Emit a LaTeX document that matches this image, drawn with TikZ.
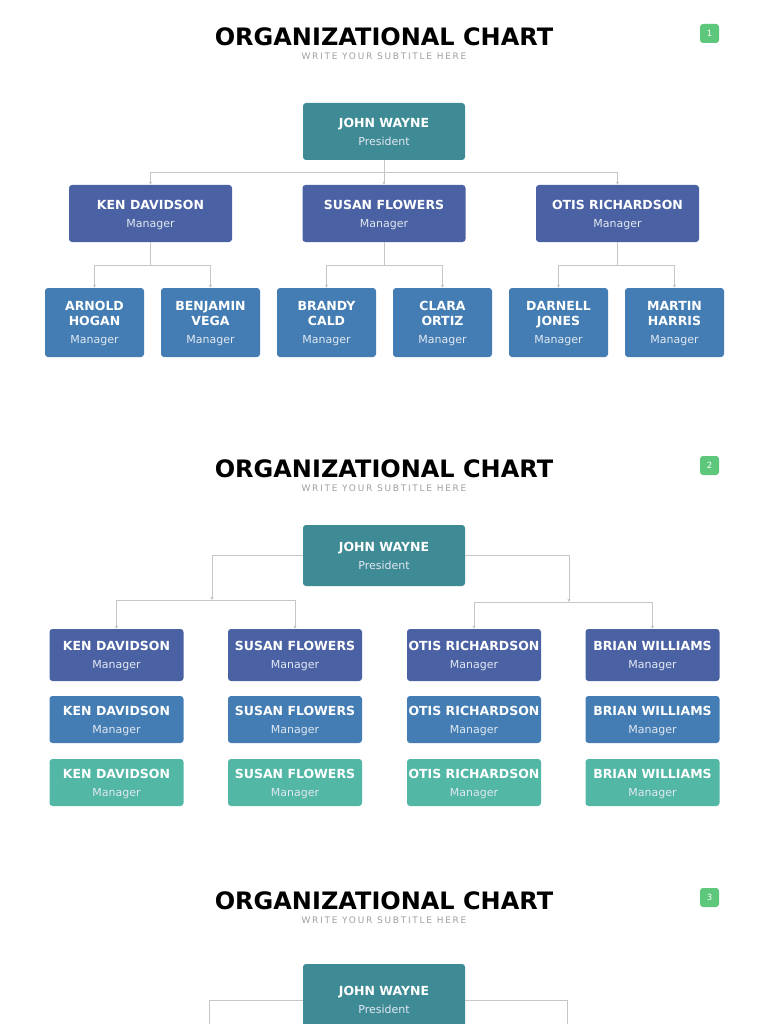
\documentclass[tikz,border=0pt]{standalone}
\usepackage{fontspec}
\setmainfont{DejaVu Sans}
\usetikzlibrary{arrows.meta}
\definecolor{cTop}{HTML}{3E8B95}
\definecolor{cMid}{HTML}{4A62A3}
\definecolor{cLow}{HTML}{437DB3}
\definecolor{cTeal}{HTML}{52B7A5}
\definecolor{cBadge}{HTML}{5DC77B}
\definecolor{cLine}{HTML}{C6C6C6}
\definecolor{cSub}{HTML}{A0A0A0}
\definecolor{cRole}{HTML}{E2E8F2}
\newcommand{\nm}[1]{{\bfseries\fontsize{12.5}{15}\selectfont #1}}
\newcommand{\rl}[1]{{\fontsize{11}{15}\selectfont\color{cRole}#1}}
\tikzset{
  box/.style={rounded corners=3pt, inner sep=0pt, text=white, align=center,
    font=\fontsize{12.5}{15}\selectfont, text depth=0pt},
  topbox/.style={box, fill=cTop, minimum width=162pt, minimum height=57pt},
  midbox/.style={box, fill=cMid, minimum width=163pt, minimum height=57pt},
  lowbox/.style={box, fill=cLow, minimum width=99pt, minimum height=69pt},
  rowa/.style={box, fill=cMid, minimum width=134pt, minimum height=52pt},
  rowb/.style={box, fill=cLow, minimum width=134pt, minimum height=47pt},
  rowc/.style={box, fill=cTeal, minimum width=134pt, minimum height=47pt},
  title/.style={anchor=base, font=\bfseries\fontsize{24}{28}\selectfont, text=black, inner sep=0pt},
  subtitle/.style={anchor=base, font=\fontsize{9}{11}\selectfont\addfontfeatures{LetterSpace=19.5}, text=cSub, inner sep=0pt},
  badge/.style={rounded corners=3pt, fill=cBadge, text=white, minimum size=19pt, inner sep=0pt,
    font=\fontsize{8.5}{9}\selectfont},
  ln/.style={draw=cLine, line width=1pt},
  arr/.style={ln, -{Triangle[length=3pt,width=3pt]}},
}
\begin{document}
\begin{tikzpicture}[x=1pt, y=-1pt]
\useasboundingbox (0,0) rectangle (768,1024);
\clip (0,0) rectangle (768,1024);
\fill[white] (0,0) rectangle (768,1024);

% ---------- Chart 1 ----------
\node[title] (t1) at (384,46) {ORGANIZATIONAL CHART};
\node[subtitle] (s1) at (384,59.3) {WRITE YOUR SUBTITLE HERE};
\node[badge] (g1) at (709.5,33.5) {1};

\node[topbox] (jw1) at (384,131.5) {\nm{JOHN WAYNE}\\[3pt]\rl{President}};
\node[midbox] (kd1) at (150.5,213.5) {\nm{KEN DAVIDSON}\\[3pt]\rl{Manager}};
\node[midbox] (sf1) at (384,213.5) {\nm{SUSAN FLOWERS}\\[3pt]\rl{Manager}};
\node[midbox] (or1) at (617.5,213.5) {\nm{OTIS RICHARDSON}\\[3pt]\rl{Manager}};

\node[lowbox] (ah) at (94.5,322.5) {\nm{ARNOLD}\\\nm{HOGAN}\\[3pt]\rl{Manager}};
\node[lowbox] (bv) at (210.5,322.5) {\nm{BENJAMIN}\\\nm{VEGA}\\[3pt]\rl{Manager}};
\node[lowbox] (bc) at (326.5,322.5) {\nm{BRANDY}\\\nm{CALD}\\[3pt]\rl{Manager}};
\node[lowbox] (co) at (442.5,322.5) {\nm{CLARA}\\\nm{ORTIZ}\\[3pt]\rl{Manager}};
\node[lowbox] (dj) at (558.5,322.5) {\nm{DARNELL}\\\nm{JONES}\\[3pt]\rl{Manager}};
\node[lowbox] (mh) at (674.5,322.5) {\nm{MARTIN}\\\nm{HARRIS}\\[3pt]\rl{Manager}};

\coordinate (b1) at (384,173);
\draw[ln] (jw1.south) -- (b1);
\draw[arr] (b1) -| (kd1.north);
\draw[arr] (b1) -- (sf1.north);
\draw[arr] (b1) -| (or1.north);

\coordinate (b2) at (150.5,265);
\draw[ln] (kd1.south) -- (b2);
\draw[arr] (b2) -| (ah.north);
\draw[arr] (b2) -| (bv.north);
\coordinate (b3) at (384,265);
\draw[ln] (sf1.south) -- (b3);
\draw[arr] (b3) -| (bc.north);
\draw[arr] (b3) -| (co.north);
\coordinate (b4) at (617.5,265);
\draw[ln] (or1.south) -- (b4);
\draw[arr] (b4) -| (dj.north);
\draw[arr] (b4) -| (mh.north);

% ---------- Chart 2 ----------
\node[title] (t2) at (384,477) {ORGANIZATIONAL CHART};
\node[subtitle] (s2) at (384,491.3) {WRITE YOUR SUBTITLE HERE};
\node[badge] (g2) at (709.5,465.5) {2};

\node[topbox, minimum height=61pt] (jw2) at (384,555.5) {\nm{JOHN WAYNE}\\[3pt]\rl{President}};

\node[rowa] (kd2a) at (116.5,655) {\nm{KEN DAVIDSON}\\[3pt]\rl{Manager}};
\node[rowa] (sf2a) at (295,655) {\nm{SUSAN FLOWERS}\\[3pt]\rl{Manager}};
\node[rowa] (or2a) at (474,655) {\nm{OTIS RICHARDSON}\\[3pt]\rl{Manager}};
\node[rowa] (bw2a) at (652.5,655) {\nm{BRIAN WILLIAMS}\\[3pt]\rl{Manager}};

\node[rowb] (kd2b) at (116.5,719.5) {\nm{KEN DAVIDSON}\\[3pt]\rl{Manager}};
\node[rowb] (sf2b) at (295,719.5) {\nm{SUSAN FLOWERS}\\[3pt]\rl{Manager}};
\node[rowb] (or2b) at (474,719.5) {\nm{OTIS RICHARDSON}\\[3pt]\rl{Manager}};
\node[rowb] (bw2b) at (652.5,719.5) {\nm{BRIAN WILLIAMS}\\[3pt]\rl{Manager}};

\node[rowc] (kd2c) at (116.5,782.5) {\nm{KEN DAVIDSON}\\[3pt]\rl{Manager}};
\node[rowc] (sf2c) at (295,782.5) {\nm{SUSAN FLOWERS}\\[3pt]\rl{Manager}};
\node[rowc] (or2c) at (474,782.5) {\nm{OTIS RICHARDSON}\\[3pt]\rl{Manager}};
\node[rowc] (bw2c) at (652.5,782.5) {\nm{BRIAN WILLIAMS}\\[3pt]\rl{Manager}};

\coordinate (l2) at (212,600);
\coordinate (r2) at (569,602);
\draw[arr] (jw2.west) -| (l2);
\draw[arr] (jw2.east) -| (r2);
\draw[arr] (l2) -| (kd2a.north);
\draw[arr] (l2) -| (sf2a.north);
\draw[arr] (r2) -| (or2a.north);
\draw[arr] (r2) -| (bw2a.north);

% ---------- Chart 3 ----------
\node[title] (t3) at (384,909) {ORGANIZATIONAL CHART};
\node[subtitle] (s3) at (384,923.3) {WRITE YOUR SUBTITLE HERE};
\node[badge] (g3) at (709.5,897.5) {3};

\node[topbox, minimum height=72pt] (jw3) at (384,1000) {\nm{JOHN WAYNE}\\[3pt]\rl{President}};
\coordinate (l3) at (209,1040);
\coordinate (r3) at (567,1040);
\draw[ln] (jw3.west) -| (l3);
\draw[ln] (jw3.east) -| (r3);
\end{tikzpicture}
\end{document}
